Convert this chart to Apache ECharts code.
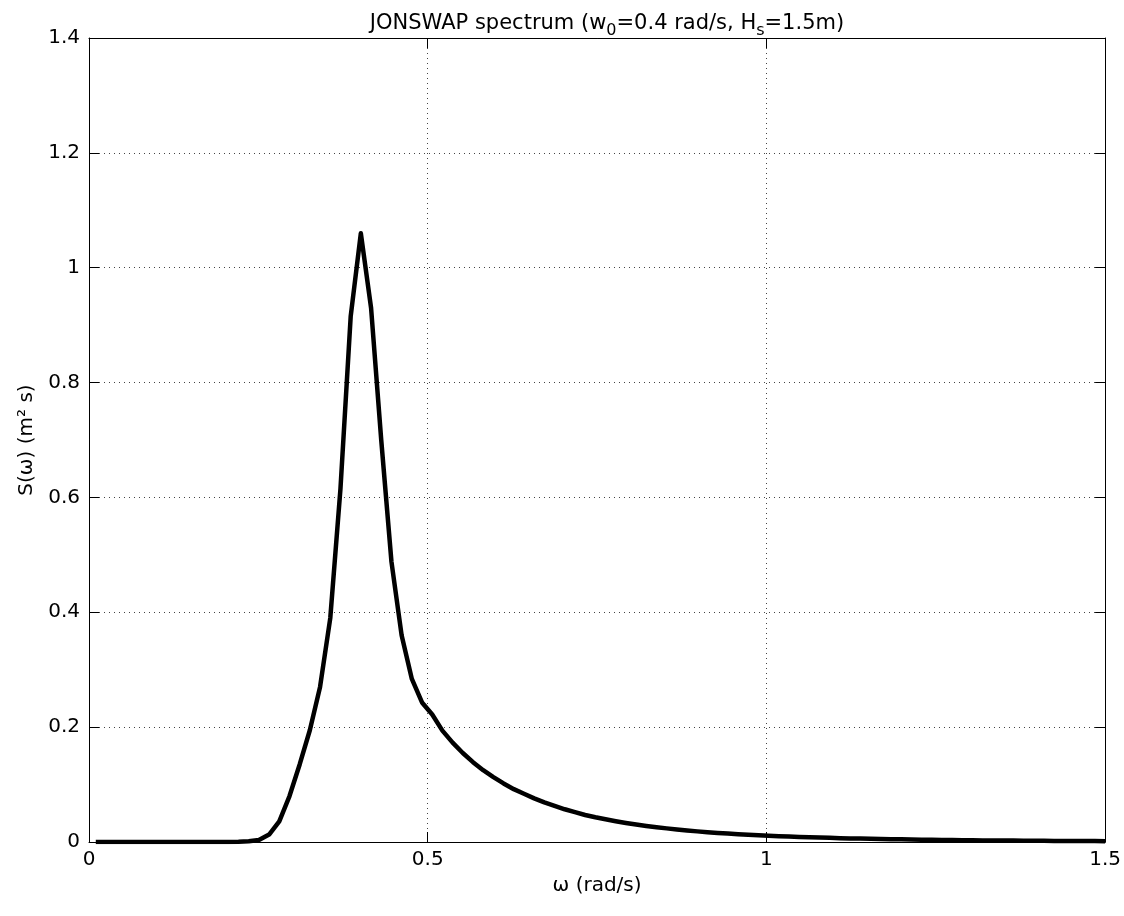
<!DOCTYPE html>
<html>
<head>
<meta charset="utf-8">
<script src="https://cdn.jsdelivr.net/npm/echarts@6/dist/echarts.min.js"></script>
<style>
  html, body { margin: 0; padding: 0; background: #fff; overflow: hidden; }
  #main { width: 1124px; height: 916px; }
</style>
</head>
<body>
<div id="main"></div>
<script>
// frequency samples (rad/s)
const omega = [
  0.0100, 0.0251, 0.0401, 0.0552, 0.0702, 0.0853, 0.1003, 0.1154, 0.1304, 0.1455,
  0.1605, 0.1756, 0.1906, 0.2057, 0.2207, 0.2358, 0.2508, 0.2659, 0.2809, 0.2960,
  0.3110, 0.3261, 0.3411, 0.3562, 0.3712, 0.3863, 0.4013, 0.4164, 0.4314, 0.4465,
  0.4615, 0.4766, 0.4916, 0.5067, 0.5217, 0.5368, 0.5518, 0.5669, 0.5819, 0.5970,
  0.6120, 0.6271, 0.6421, 0.6572, 0.6722, 0.6873, 0.7023, 0.7174, 0.7324, 0.7475,
  0.7625, 0.7776, 0.7926, 0.8077, 0.8227, 0.8378, 0.8528, 0.8679, 0.8829, 0.8980,
  0.9130, 0.9281, 0.9431, 0.9582, 0.9732, 0.9883, 1.0033, 1.0184, 1.0334, 1.0485,
  1.0635, 1.0786, 1.0936, 1.1087, 1.1237, 1.1388, 1.1538, 1.1689, 1.1839, 1.1990,
  1.2140, 1.2291, 1.2441, 1.2592, 1.2742, 1.2893, 1.3043, 1.3194, 1.3344, 1.3495,
  1.3645, 1.3796, 1.3946, 1.4097, 1.4247, 1.4398, 1.4548, 1.4699, 1.4849, 1.5000
];

// spectral density S(w) (m^2 s)
const spectrum = [
  0, 0, 0, 0, 0, 0, 0, 0, 0, 0,
  0, 0, 0, 0.0001, 0.0003, 0.0012, 0.0035, 0.013, 0.036, 0.080,
  0.135, 0.195, 0.270, 0.390, 0.615, 0.915, 1.060, 0.930, 0.700, 0.488,
  0.360, 0.284, 0.243, 0.222, 0.194, 0.173, 0.155, 0.139, 0.125, 0.113,
  0.102, 0.092, 0.084, 0.076, 0.069, 0.063, 0.057, 0.052, 0.047, 0.043,
  0.0395, 0.0362, 0.0332, 0.0305, 0.0280, 0.0258, 0.0237, 0.0218, 0.0201, 0.0185,
  0.0171, 0.0158, 0.0146, 0.0136, 0.0126, 0.0117, 0.0109, 0.0101, 0.0094, 0.0088,
  0.0082, 0.0077, 0.0072, 0.0067, 0.0063, 0.0059, 0.0055, 0.0052, 0.0049, 0.0046,
  0.0043, 0.0040, 0.0038, 0.0036, 0.0034, 0.0032, 0.0030, 0.0028, 0.0027, 0.0025,
  0.0024, 0.0023, 0.0022, 0.0020, 0.0019, 0.0018, 0.0017, 0.0017, 0.0016, 0.0015
];

const xTicks = [0, 0.5, 1, 1.5];
const yTicks = [0, 0.2, 0.4, 0.6, 0.8, 1, 1.2, 1.4];

const font = 'DejaVu Sans';

const myChart = echarts.init(document.getElementById('main'));

const gridDots = { color: '#444', width: 1, type: [1, 4] };
const tick = { show: true, inside: true, length: 10, lineStyle: { color: '#000', width: 1 } };

const option = {
  animation: false,
  backgroundColor: '#fff',
  title: {
    left: 602,
    top: 4,
    textAlign: 'center',
    text: '{a|JONSWAP spectrum (w}{s|0}{a|=0.4 rad/s, H}{s|s}{a|=1.5m)}',
    textStyle: {
      fontWeight: 'normal',
      rich: {
        a: { fontFamily: font, fontSize: 21, fontWeight: 'normal', color: '#000', lineHeight: 30, verticalAlign: 'middle' },
        s: { fontFamily: font, fontSize: 16, fontWeight: 'normal', color: '#000', lineHeight: 16, verticalAlign: 'bottom' }
      }
    }
  },
  grid: {
    left: 89,
    right: 14,
    top: 38,
    bottom: 74,
    containLabel: false
  },
  xAxis: [{
    type: 'value',
    min: xTicks[0],
    max: xTicks[xTicks.length - 1],
    interval: 0.5,
    name: 'ω (rad/s)',
    nameLocation: 'middle',
    nameGap: 34,
    nameTextStyle: { fontFamily: font, fontSize: 20, color: '#000' },
    axisLine: { show: true, onZero: false, lineStyle: { color: '#000', width: 1 } },
    axisTick: tick,
    axisLabel: { fontFamily: font, fontSize: 20, color: '#000', margin: 8 },
    splitLine: { show: true, lineStyle: gridDots }
  }, {
    type: 'value',
    position: 'top',
    min: xTicks[0],
    max: xTicks[xTicks.length - 1],
    interval: 0.5,
    axisLine: { show: true, onZero: false, lineStyle: { color: '#000', width: 1 } },
    axisTick: tick,
    axisLabel: { show: false },
    splitLine: { show: false }
  }],
  yAxis: [{
    type: 'value',
    position: 'left',
    min: yTicks[0],
    max: yTicks[yTicks.length - 1],
    interval: 0.2,
    name: 'S(ω) (m² s)',
    nameLocation: 'middle',
    nameGap: 48,
    nameTextStyle: { fontFamily: font, fontSize: 20, color: '#000' },
    axisLine: { show: true, onZero: false, lineStyle: { color: '#000', width: 1 } },
    axisTick: tick,
    axisLabel: { fontFamily: font, fontSize: 20, color: '#000', margin: 9 },
    splitLine: { show: true, lineStyle: gridDots }
  }, {
    type: 'value',
    position: 'right',
    min: yTicks[0],
    max: yTicks[yTicks.length - 1],
    interval: 0.2,
    axisLine: { show: true, onZero: false, lineStyle: { color: '#000', width: 1 } },
    axisTick: tick,
    axisLabel: { show: false },
    splitLine: { show: false }
  }],
  series: [{
    name: 'S',
    type: 'line',
    xAxisIndex: 0,
    yAxisIndex: 0,
    showSymbol: false,
    symbol: 'none',
    lineStyle: { color: '#000', width: 4.5, join: 'round' },
    data: omega.map((w, i) => [w, spectrum[i]])
  }]
};

myChart.setOption(option);
</script>
</body>
</html>
